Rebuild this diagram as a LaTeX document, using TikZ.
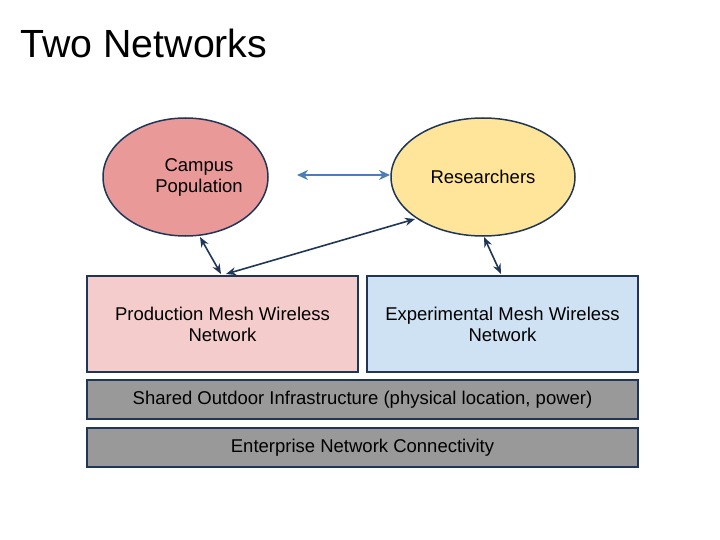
\documentclass[tikz,border=0pt]{standalone}
\usepackage{fontspec}
\setmainfont{Liberation Sans}
\usetikzlibrary{shapes.geometric,arrows.meta}
\definecolor{campus}{HTML}{EA9999}
\definecolor{research}{HTML}{FFE599}
\definecolor{prod}{HTML}{F4CCCC}
\definecolor{expt}{HTML}{CFE2F3}
\definecolor{layer}{HTML}{999999}
\definecolor{edge}{HTML}{1F3656}
\definecolor{steel}{HTML}{4A7EBB}
\begin{document}
\begin{tikzpicture}[x=1pt,y=-1pt,
  lbl/.style={font=\fontsize{18.5}{21}\selectfont, align=center, text=black},
  oval/.style={ellipse, draw=edge, line width=1.5pt, inner sep=0pt},
  boxx/.style={rectangle, draw=edge, line width=1.5pt, inner sep=0pt},
  link/.style={draw=edge, line width=1.6pt, {Stealth[length=10pt,width=8pt]}-{Stealth[length=10pt,width=8pt]}},
  hlink/.style={draw=steel, line width=2.2pt, {Stealth[length=11pt,width=10pt]}-{Stealth[length=11pt,width=10pt]}}]
\useasboundingbox (0,0) rectangle (720,540);
\node[anchor=base west, font=\fontsize{39.3}{42}\selectfont] (title) at (17,58) {Two Networks};
\node[oval, fill=campus, minimum width=165pt, minimum height=118pt] (campus) at (185.5,177) {};
\node[lbl] (campustxt) at (199,177) {Campus\\Population};
\node[oval, fill=research, minimum width=184pt, minimum height=118pt, lbl] (res) at (483,177) {Researchers};
\node[boxx, fill=prod, minimum width=271pt, minimum height=96pt, lbl] (prod) at (222.5,324) {Production Mesh Wireless\\Network};
\node[boxx, fill=expt, minimum width=271pt, minimum height=96pt, lbl] (expt) at (502.5,324) {Experimental Mesh Wireless\\Network};
\node[boxx, fill=layer, minimum width=551pt, minimum height=39pt, lbl] (shared) at (362.5,399.5) {Shared Outdoor Infrastructure (physical location, power)};
\node[boxx, fill=layer, minimum width=551pt, minimum height=39pt, lbl] (ent) at (362.5,447.5) {Enterprise Network Connectivity};
\coordinate (c1) at (200,237);
\coordinate (p1) at (221,274);
\coordinate (p2) at (226,274);
\coordinate (r1) at (415,219);
\coordinate (r2) at (484,237);
\coordinate (e1) at (501,274);
\coordinate (h1) at (297,175);
\coordinate (h2) at (390,175);
\draw[hlink] (h1) -- (h2);
\draw[link] (c1) -- (p1);
\draw[link] (p2) -- (r1);
\draw[link] (r2) -- (e1);
\end{tikzpicture}
\end{document}
